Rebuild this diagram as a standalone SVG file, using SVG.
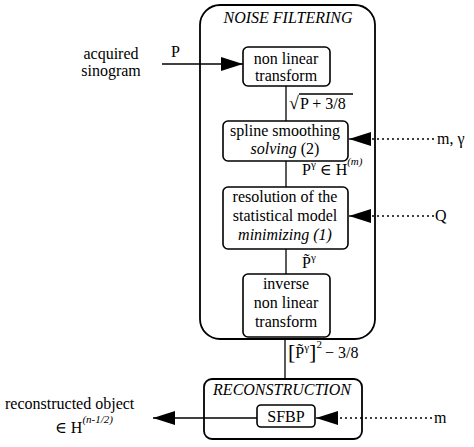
<svg xmlns="http://www.w3.org/2000/svg" width="474" height="447" viewBox="0 0 474 447" font-family="Liberation Serif, Times New Roman, DejaVu Serif, serif">
<defs>
<style>
text{font-family:Liberation Serif,"Times New Roman","DejaVu Serif",serif;font-size:16px;fill:#000}
.c{text-anchor:middle}
.i{font-style:italic}
.box{fill:#fff;stroke:#000;stroke-width:1.6}
.outer{fill:none;stroke:#000;stroke-width:1.8}
.ln{stroke:#000;stroke-width:1.3;fill:none}
.dot{stroke:#000;stroke-width:1.3;fill:none;stroke-dasharray:2 3}
.sup{font-size:11px}
</style>
<marker id="ah" markerWidth="22" markerHeight="16" refX="22" refY="8" orient="auto" markerUnits="userSpaceOnUse">
<path d="M0,1 L22,8 L0,15 Z" fill="#000"/>
</marker>
</defs>
<rect width="474" height="447" fill="#fff"/>

<g id="noise-filtering">
<rect class="outer" x="200" y="5" width="175" height="334" rx="20"/>
<text class="c i" x="288" y="23">NOISE FILTERING</text>
</g>

<g id="reconstruction">
<rect class="outer" x="204" y="379" width="158" height="60" rx="8"/>
<text class="c i" x="282" y="395">RECONSTRUCTION</text>
</g>

<g id="connectors">
<line class="ln" x1="162" y1="64" x2="243" y2="64" marker-end="url(#ah)"/>
<line class="ln" x1="286" y1="86" x2="286" y2="121"/>
<line class="ln" x1="286" y1="161" x2="286" y2="187"/>
<line class="ln" x1="286" y1="249" x2="286" y2="274"/>
<line class="ln" x1="285" y1="338" x2="285" y2="379"/>
<line class="dot" x1="434" y1="139" x2="370" y2="139"/>
<line class="ln" x1="371" y1="139" x2="349" y2="139" marker-end="url(#ah)"/>
<line class="dot" x1="434" y1="216" x2="370" y2="216"/>
<line class="ln" x1="371" y1="216" x2="349" y2="216" marker-end="url(#ah)"/>
<line class="dot" x1="432" y1="418" x2="336" y2="418"/>
<line class="ln" x1="337" y1="418" x2="316" y2="418" marker-end="url(#ah)"/>
<line class="ln" x1="257" y1="418" x2="153" y2="418" marker-end="url(#ah)"/>
</g>

<g id="input-label">
<text class="c" x="111" y="59">acquired</text>
<text class="c" x="111" y="76">sinogram</text>
<text x="171" y="57">P</text>
</g>

<g id="non-linear-transform">
<rect class="box" x="243" y="47" width="87" height="39" rx="5"/>
<text class="c" x="286" y="64">non linear</text>
<text class="c" x="286" y="81">transform</text>
</g>

<g id="sqrt-label">
<text x="289" y="109" style="font-size:18px">√</text>
<line class="ln" x1="299" y1="94" x2="353" y2="94"/>
<text x="300" y="109">P + 3/8</text>
</g>

<g id="spline-smoothing">
<rect class="box" x="223" y="121" width="125" height="40" rx="5"/>
<text class="c" x="285" y="136">spline smoothing</text>
<text class="c" x="285" y="154"><tspan class="i">solving</tspan> (2)</text>
</g>

<g id="m-gamma-label">
<text x="437" y="144">m, γ</text>
</g>

<g id="pgamma-label">
<text x="302" y="175">P<tspan class="sup" dy="-7">γ</tspan><tspan dy="7" dx="4">∈ H</tspan><tspan class="sup i" dy="-10">(m)</tspan></text>
</g>

<g id="statistical-model">
<rect class="box" x="223" y="187" width="125" height="62" rx="5"/>
<text class="c" x="285" y="202">resolution of the</text>
<text class="c" x="285" y="221">statistical model</text>
<text class="c" x="285" y="240"><tspan class="i">minimizing (1)</tspan></text>
</g>

<g id="q-label">
<text x="435" y="221">Q</text>
</g>

<g id="ptilde-label">
<text x="302" y="268">P̃<tspan class="sup" dy="-7">γ</tspan></text>
</g>

<g id="inverse-transform">
<rect class="box" x="243" y="274" width="87" height="63" rx="5"/>
<text class="c" x="286" y="289">inverse</text>
<text class="c" x="286" y="308">non linear</text>
<text class="c" x="286" y="327">transform</text>
</g>

<g id="square-label">
<text x="288" y="359"><tspan style="font-size:22px">[</tspan><tspan dy="-1">P̃</tspan><tspan class="sup" dy="-7">γ</tspan><tspan style="font-size:22px" dy="8">]</tspan><tspan class="sup" dy="-11">2</tspan><tspan dy="10" dx="3">− 3/8</tspan></text>
</g>

<g id="sfbp">
<rect class="box" x="257" y="405" width="58" height="22" rx="4"/>
<text class="c" x="286" y="422">SFBP</text>
</g>

<g id="m-label">
<text x="434" y="423">m</text>
</g>

<g id="output-label">
<text x="5" y="409">reconstructed object</text>
<text x="55" y="433">∈ H<tspan class="sup i" dy="-10">(n-1/2)</tspan></text>
</g>
</svg>
